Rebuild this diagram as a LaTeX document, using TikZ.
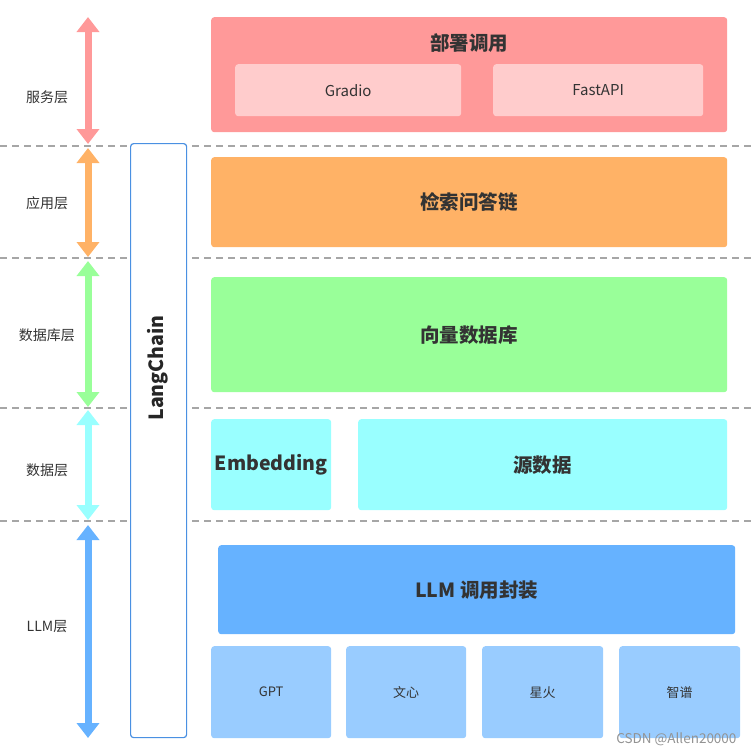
\documentclass[tikz,border=0pt]{standalone}
\usepackage{fontspec}
\setmainfont{Noto Sans CJK SC}
\usetikzlibrary{arrows.meta}
\definecolor{cpink}{HTML}{FF9999}
\definecolor{cpinkl}{HTML}{FFCCCC}
\definecolor{corange}{HTML}{FFB266}
\definecolor{cgreen}{HTML}{99FF99}
\definecolor{ccyan}{HTML}{99FFFF}
\definecolor{cblue}{HTML}{66B2FF}
\definecolor{cbluel}{HTML}{99CCFF}
\definecolor{lcblue}{HTML}{4A90E2}
\begin{document}
\begin{tikzpicture}[x=1pt,y=-1pt,
  box/.style={rounded corners=3pt,draw=none,inner sep=0pt,anchor=north west},
  big/.style={font=\fontsize{19.5}{22}\selectfont\bfseries,text=black!80},
  small/.style={font=\fontsize{15}{17}\selectfont,text=black!80},
  tiny/.style={font=\fontsize{13}{15}\selectfont,text=black!80},
  lbl/.style={font=\fontsize{14}{16}\selectfont,text=black!80},
  dar/.style={line width=7pt,{Triangle[width=22pt,length=15pt]}-{Triangle[width=22pt,length=15pt]}},
  dl/.style={gray!70,line width=1.2pt,dash pattern=on 7pt off 5pt}]
\useasboundingbox (0,0) rectangle (752,755);
\foreach \y in {146,258,408,521}{\draw[dl] (0,\y) -- (752,\y);}
\node[draw=lcblue,line width=1.2pt,rounded corners=3pt,fill=white,minimum width=56pt,minimum height=594pt,anchor=north west,inner sep=0pt] (lc) at (130,143) {};
\node[rotate=90,font=\fontsize{19.5}{22}\selectfont\bfseries,text=black!85] (lct) at (158,368) {LangChain};
\node[box,fill=cpink,minimum width=516pt,minimum height=115pt] (svc) at (211,17) {};
\node[big] (svct) at (469,43) {部署调用};
\node[box,fill=cpinkl,minimum width=226pt,minimum height=52pt] (gr) at (235,64) {};
\node[small] at (gr.center) {Gradio};
\node[box,fill=cpinkl,minimum width=210pt,minimum height=52pt] (fa) at (493,64) {};
\node[small] at (fa.center) {FastAPI};
\node[box,fill=corange,minimum width=516pt,minimum height=90pt] (app) at (211,157) {};
\node[big] at (app.center) {检索问答链};
\node[box,fill=cgreen,minimum width=516pt,minimum height=115pt] (db) at (211,277) {};
\node[big] at (db.center) {向量数据库};
\node[box,fill=ccyan,minimum width=120pt,minimum height=91pt] (emb) at (211,419) {};
\node[big] at (emb.center) {Embedding};
\node[box,fill=ccyan,minimum width=369pt,minimum height=91pt] (src) at (358,419) {};
\node[big] at (src.center) {源数据};
\node[box,fill=cblue,minimum width=517pt,minimum height=89pt] (llm) at (218,545) {};
\node[big] at (llm.center) {LLM 调用封装};
\node[box,fill=cbluel,minimum width=120pt,minimum height=92pt] (gpt) at (211,646) {};
\node[tiny] at (gpt.center) {GPT};
\node[box,fill=cbluel,minimum width=120pt,minimum height=92pt] (wx) at (346,646) {};
\node[tiny] at (wx.center) {文心};
\node[box,fill=cbluel,minimum width=121pt,minimum height=92pt] (xh) at (482,646) {};
\node[tiny] at (xh.center) {星火};
\node[box,fill=cbluel,minimum width=121pt,minimum height=92pt] (zp) at (619,646) {};
\node[tiny] at (zp.center) {智谱};
\coordinate (a1) at (88,17); \coordinate (b1) at (88,144);
\coordinate (a2) at (88,148); \coordinate (b2) at (88,257);
\coordinate (a3) at (88,261); \coordinate (b3) at (88,407);
\coordinate (a4) at (88,410); \coordinate (b4) at (88,520);
\coordinate (a5) at (88,525); \coordinate (b5) at (88,738);
\draw[dar,cpink] (a1) -- (b1);
\draw[dar,corange] (a2) -- (b2);
\draw[dar,cgreen] (a3) -- (b3);
\draw[dar,ccyan] (a4) -- (b4);
\draw[dar,cblue] (a5) -- (b5);
\node[lbl] at (47,97) {服务层};
\node[lbl] at (47,203) {应用层};
\node[lbl] at (47,335) {数据库层};
\node[lbl] at (47,470) {数据层};
\node[lbl] at (47,627) {LLM层};
\node[font=\fontsize{13.5}{15}\selectfont,text=gray!85,anchor=east] (wm) at (740,739) {CSDN @Allen20000};
\end{tikzpicture}
\end{document}
